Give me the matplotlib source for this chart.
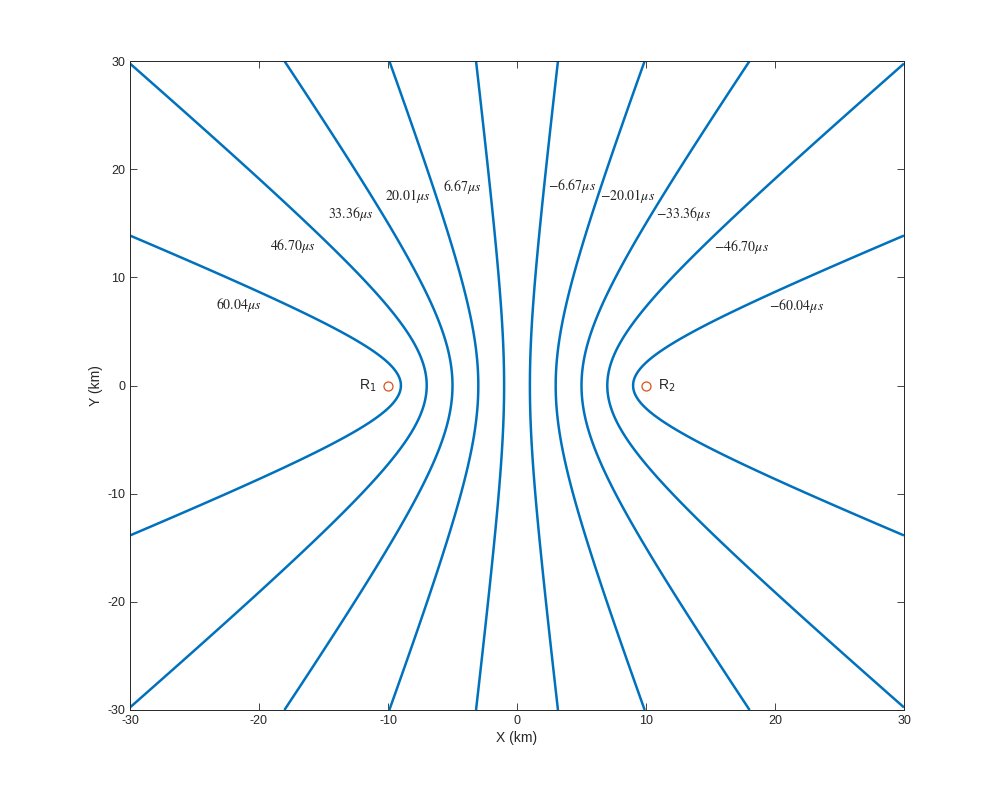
import numpy as np
import matplotlib
matplotlib.use("Agg")
import matplotlib.pyplot as plt

plt.rcParams['font.family'] = ['Liberation Sans', 'DejaVu Sans']
plt.rcParams['mathtext.fontset'] = 'stix'
plt.rcParams['axes.unicode_minus'] = False

# Data
receiver_x = [-10.0, 10.0]
receiver_y = [0.0, 0.0]
receiver_names = ['R$_1$', 'R$_2$']
time_diffs_us = [60.04, 46.70, 33.36, 20.01, 6.67, -6.67, -20.01, -33.36, -46.70, -60.04]
c_km_per_us = 0.299792458
x_limits = [-30, 30]
y_limits = [-30, 30]

# Label layout positions (data coords)
label_pos = [(-21.6, 7.45), (-17.4, 12.9), (-12.9, 15.9), (-8.5, 17.5), (-4.2, 18.35),
             (4.3, 18.4), (8.6, 17.5), (12.9, 15.9), (17.4, 12.8), (21.7, 7.35)]

fig = plt.figure(figsize=(10, 8), dpi=100)
ax = fig.add_axes([0.13, 0.1125, 0.774, 0.81125])

gx = np.linspace(x_limits[0], x_limits[1], 1501)
gy = np.linspace(y_limits[0], y_limits[1], 1501)
X, Y = np.meshgrid(gx, gy)
r1 = np.hypot(X - receiver_x[0], Y - receiver_y[0])
r2 = np.hypot(X - receiver_x[1], Y - receiver_y[1])
T = (r2 - r1) / c_km_per_us

levels = sorted(time_diffs_us)
ax.contour(X, Y, T, levels=levels, colors='#0072BD', linewidths=1.8, linestyles='solid')

for t, (lx, ly) in zip(time_diffs_us, label_pos):
    s = r'$%.2f\mu s$' % t
    ax.text(lx, ly, s, ha='center', va='center', fontsize=10, color='#262626')

ax.plot(receiver_x, receiver_y, 'o', mfc='none', mec='#D95319', ms=6.5, mew=0.9)
ax.text(receiver_x[0] - 0.9, receiver_y[0], receiver_names[0], ha='right', va='center',
        fontsize=10, color='#262626', math_fontfamily='dejavusans')
ax.text(receiver_x[1] + 0.9, receiver_y[1], receiver_names[1], ha='left', va='center',
        fontsize=10, color='#262626', math_fontfamily='dejavusans')

ax.set_xlim(x_limits)
ax.set_ylim(y_limits)
ax.set_xticks(np.arange(-30, 31, 10))
ax.set_yticks(np.arange(-30, 31, 10))
ax.tick_params(direction='in', top=True, right=True, labelsize=9, colors='#262626',
               length=5, width=0.6)
for sp in ax.spines.values():
    sp.set_linewidth(0.7)
    sp.set_color('#262626')
ax.set_xlabel('X (km)', fontsize=10, color='#262626', labelpad=3)
ax.set_ylabel('Y (km)', fontsize=10, color='#262626', labelpad=3)

fig.savefig('out.png', dpi=100)
